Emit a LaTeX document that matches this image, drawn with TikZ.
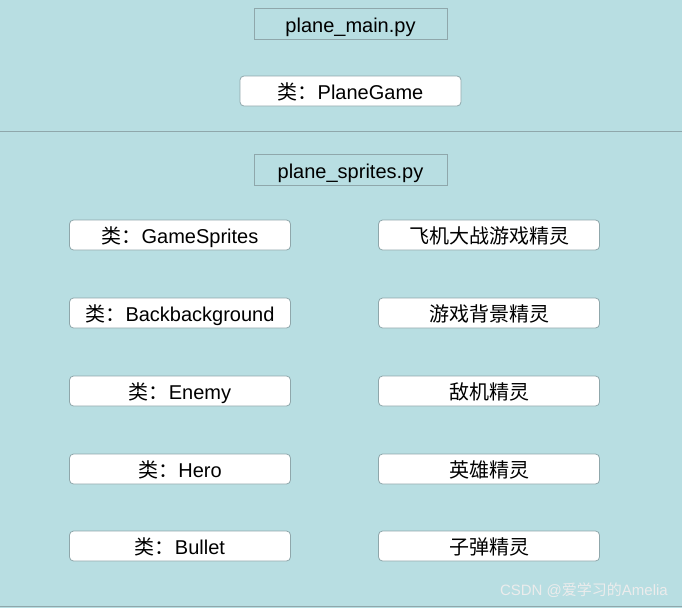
\documentclass[tikz,border=0pt]{standalone}
\usepackage{fontspec}
\setmainfont{Liberation Sans}
\newfontfamily\cjk{Noto Sans CJK SC}
\definecolor{bgc}{HTML}{B8DEE2}
\definecolor{edgec}{HTML}{8FA7AB}
\begin{document}
\begin{tikzpicture}[x=1pt,y=-1pt,
  filebox/.style={draw=edgec,line width=0.8pt,fill=bgc,minimum width=193pt,minimum height=31pt,inner sep=0pt,text height=17pt,text depth=0pt,font=\fontsize{20}{24}\selectfont},
  classbox/.style={draw=edgec,line width=0.8pt,fill=white,rounded corners=4pt,minimum width=221pt,minimum height=30pt,inner sep=0pt,text height=17pt,text depth=0pt,font=\fontsize{20}{24}\selectfont}]
\fill[bgc] (0,0) rectangle (682,608);
\useasboundingbox (0,0) rectangle (682,608);
\draw[edgec,line width=0.8pt] (0,131) -- (682,131);
\draw[edgec,line width=1pt] (0,606.5) -- (682,606.5);
\node[filebox] (main) at (350.5,23.5) {plane\_main.py};
\node[classbox] (pg) at (350.5,91) {{\cjk 类：}PlaneGame};
\node[filebox] (spr) at (350.5,170) {plane\_sprites.py};
\node[classbox] (l1) at (180,235) {{\cjk 类：}GameSprites};
\node[classbox] (l2) at (180,313) {{\cjk 类：}Backbackground};
\node[classbox] (l3) at (180,391) {{\cjk 类：}Enemy};
\node[classbox] (l4) at (180,469) {{\cjk 类：}Hero};
\node[classbox] (l5) at (180,546) {{\cjk 类：}Bullet};
\node[classbox] (r1) at (489,235) {\cjk 飞机大战游戏精灵};
\node[classbox] (r2) at (489,313) {\cjk 游戏背景精灵};
\node[classbox] (r3) at (489,391) {\cjk 敌机精灵};
\node[classbox] (r4) at (489,469) {\cjk 英雄精灵};
\node[classbox] (r5) at (489,546) {\cjk 子弹精灵};
\node[text=white!85!gray,font=\fontsize{15}{18}\selectfont,anchor=east,inner sep=0pt] (wm) at (668,590) {CSDN @{\cjk 爱学习的}Amelia};
\end{tikzpicture}
\end{document}
